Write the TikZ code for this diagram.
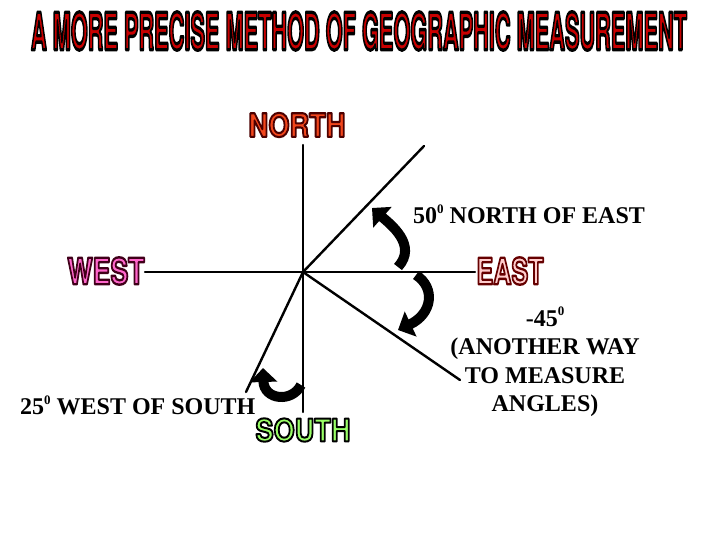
\documentclass[tikz,border=0pt]{standalone}
\usepackage{fontspec}
\usepackage{graphicx}
\setmainfont{Liberation Serif}
\newfontfamily\heavy{TeX Gyre Heros}
\usepackage{tikz}
\usetikzlibrary{calc,arrows.meta}
\definecolor{ink}{HTML}{000000}
\definecolor{titlered}{HTML}{C80000}
\definecolor{northred}{HTML}{F2461C}
\definecolor{westpink}{HTML}{FF66CC}
\definecolor{eastpink}{HTML}{FFCCCC}
\definecolor{southgreen}{HTML}{99FF66}
\tikzset{
  axis/.style={draw=ink, line width=2.4pt, line cap=round},
  ray/.style={draw=ink, line width=2.4pt, line cap=round},
  turn/.style={draw=ink, line width=10pt, -{Triangle[length=14pt,width=27pt]}},
  lab/.style={text=ink, font=\fontsize{24}{28.5}\selectfont\bfseries, inner sep=0pt},
}
\newcommand\degsup{\raisebox{0.42em}{\fontsize{13}{13}\selectfont 0}}
% outlined block word: name, position, fill, edge (rgb), width, height, text
\newcommand\outword[7]{%
  \node[text=#3, inner sep=0pt] (#1) at #2 {\resizebox{#5pt}{#6pt}{\fontsize{40}{40}\heavy\bfseries
    \special{pdf:literal direct #4 RG 2.6 w 1 j 2 Tr}#7\special{pdf:literal direct 0 Tr 0 j}}};
}

\begin{document}
\begin{tikzpicture}[x=1pt,y=-1pt]
  \useasboundingbox (0,0) rectangle (728,546);
  \coordinate (O) at (303,272);
  \coordinate (N) at (303,145);
  \coordinate (S) at (303,412);
  \coordinate (W) at (145,272);
  \coordinate (E) at (475,272);
  \coordinate (NE) at (424,146);
  \coordinate (SE) at (460,380);
  \coordinate (SW) at (246,392);
  % compass cross and rays
  \draw[axis] (N)--(S);
  \draw[axis] (W)--(E);
  \draw[ray] (O)--(NE);
  \draw[ray] (O)--(SE);
  \draw[ray] (O)--(SW);
  % turning arrows
  \draw[turn] (398,267) .. controls (418,245) and (390,224) .. (372,208);
  \draw[turn] (416,275) .. controls (436,288) and (432,314) .. (398,330);
  \draw[turn] (301,385) .. controls (292,403) and (264,400) .. (263,368);
  % heading and direction words
  \outword{title}{(359,31)}{titlered}{0 0 0}{656}{38}{A MORE PRECISE METHOD OF GEOGRAPHIC MEASUREMENT}
  \outword{north}{(297,125)}{northred}{0.3 0 0}{97}{24}{NORTH}
  \outword{west}{(106,271)}{westpink}{0.25 0 0.1}{77}{27}{WEST}
  \outword{east}{(510,271)}{eastpink}{0.4 0 0}{67}{27}{EAST}
  \outword{south}{(303,430)}{southgreen}{0 0 0}{95}{23}{SOUTH}
  % angle texts
  \node[lab, anchor=west] (ne) at (413,214) {50\degsup{} NORTH OF EAST};
  \node[lab, align=center] (se) at (545,362) {-45\degsup\\(ANOTHER WAY\\TO MEASURE\\ANGLES)};
  \node[lab, anchor=west] (sw) at (20,405) {25\degsup{} WEST OF SOUTH};
\end{tikzpicture}
\end{document}
